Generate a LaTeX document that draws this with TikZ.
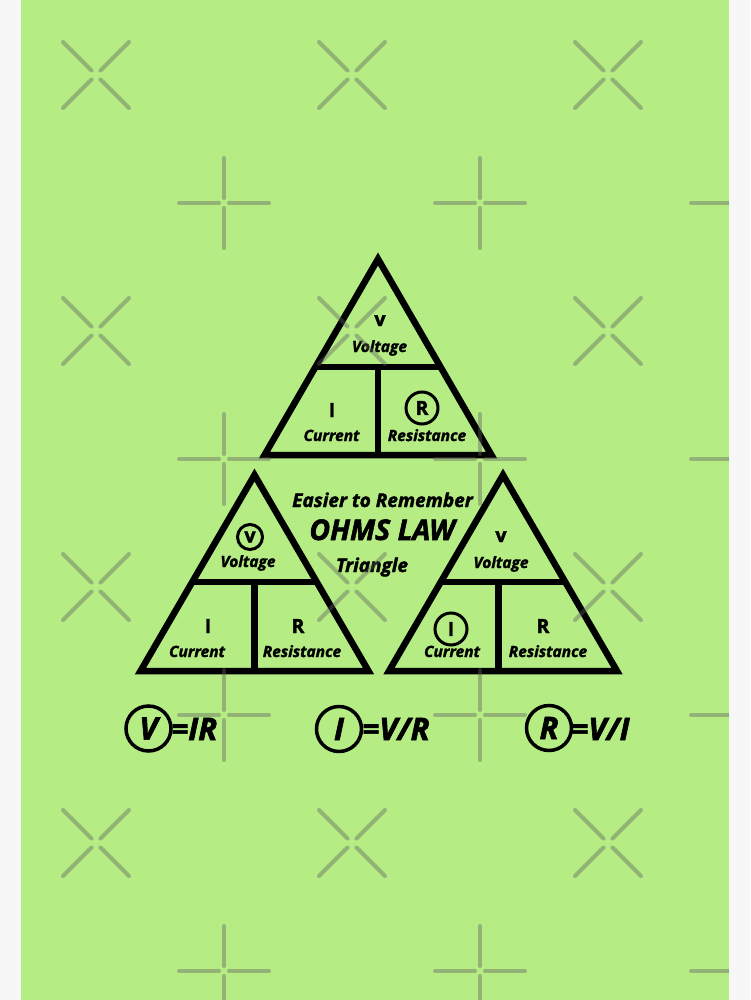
\documentclass[tikz,border=0pt]{standalone}
\usepackage{fontspec}
\setmainfont{Open Sans}[BoldFeatures={FakeBold=2}, BoldItalicFeatures={FakeBold=2}]
\usetikzlibrary{calc}
\definecolor{bggreen}{RGB}{181,236,132}
\definecolor{margincol}{RGB}{247,247,247}
\definecolor{wmcol}{RGB}{95,95,95}
\tikzset{
  tri/.style={draw=black, line width=6.5pt, line join=miter},
  divline/.style={draw=black, line width=6.5pt},
  lab/.style={font=\fontsize{15.5}{16}\selectfont\bfseries\itshape, inner sep=0pt, anchor=base},
  sym/.style={font=\fontsize{19.5}{20}\selectfont\bfseries, inner sep=0pt, anchor=base},
  csym/.style={font=\fontsize{19.5}{20}\selectfont\bfseries, inner sep=0pt, draw=black, circle, line width=3pt, minimum size=32pt},
  csmall/.style={csym, minimum size=25pt},
  ttl/.style={font=\fontsize{19}{20}\selectfont\bfseries\itshape, inner sep=0pt, anchor=base},
  big/.style={font=\fontsize{28.5}{29}\selectfont\bfseries\itshape, inner sep=0pt, anchor=base},
  fcirc/.style={font=\fontsize{31}{32}\selectfont\bfseries\itshape, inner sep=0pt, draw=black, circle, line width=3.5pt, minimum size=45pt},
  ftxt/.style={font=\fontsize{31}{32}\selectfont\bfseries\itshape, inner sep=0pt, anchor=base west},
  wmark/.style={draw=wmcol, opacity=0.4, line width=4pt, line cap=round},
}
\begin{document}
\begin{tikzpicture}[x=1pt,y=-1pt]
\useasboundingbox (0,0) rectangle (750,1000);
\fill[margincol] (0,0) rectangle (750,1000);
\fill[bggreen] (21,0) rectangle (729,1000);

% ---- top triangle
\coordinate (tA) at (378,259);
\coordinate (tL) at (264.5,455);
\coordinate (tR) at (491.5,455);
\draw[tri] (tA) -- (tL) -- (tR) -- cycle;
\coordinate (tdl) at ($(tA)!0.551!(tL)$);
\coordinate (tdr) at ($(tA)!0.551!(tR)$);
\draw[divline] (tdl) -- (tdr);
\coordinate (tvt) at (378,367);
\coordinate (tvb) at (378,455);
\draw[divline] (tvt) -- (tvb);
\node[sym] (tv) at (380,326) {v};
\node[lab] (tvolt) at (379.5,352) {Voltage};
\node[sym] (ti) at (332,417) {I};
\node[lab] (tcur) at (331.5,441) {Current};
\node[csym] (tr) at (422,408) {R};
\node[lab] (tres) at (427,441) {Resistance};

% ---- bottom-left triangle
\coordinate (lA) at (254.5,475);
\coordinate (lL) at (140.5,671);
\coordinate (lR) at (368.5,671);
\draw[tri] (lA) -- (lL) -- (lR) -- cycle;
\coordinate (ldl) at ($(lA)!0.546!(lL)$);
\coordinate (ldr) at ($(lA)!0.546!(lR)$);
\draw[divline] (ldl) -- (ldr);
\coordinate (lvt) at (254.5,582);
\coordinate (lvb) at (254.5,671);
\draw[divline] (lvt) -- (lvb);
\node[csmall] (lv) at (250,537) {v};
\node[lab] (lvolt) at (248,567) {Voltage};
\node[sym] (li) at (208,633) {I};
\node[lab] (lcur) at (197,657) {Current};
\node[sym] (lr) at (298,633) {R};
\node[lab] (lres) at (302,657) {Resistance};

% ---- bottom-right triangle
\coordinate (rA) at (503,475);
\coordinate (rL) at (389,671);
\coordinate (rR) at (617,671);
\draw[tri] (rA) -- (rL) -- (rR) -- cycle;
\coordinate (rdl) at ($(rA)!0.546!(rL)$);
\coordinate (rdr) at ($(rA)!0.546!(rR)$);
\draw[divline] (rdl) -- (rdr);
\coordinate (rvt) at (498.5,582);
\coordinate (rvb) at (498.5,671);
\draw[divline] (rvt) -- (rvb);
\node[sym] (rv) at (501,542) {v};
\node[lab] (rvolt) at (501,568) {Voltage};
\node[csym] (ri) at (451,629) {I};
\node[lab] (rcur) at (452,657) {Current};
\node[sym] (rr) at (543,633) {R};
\node[lab] (rres) at (548,657) {Resistance};

% ---- title
\node[ttl] (t1) at (382.5,507) {Easier to Remember};
\node[big] (t2) at (382,540) {OHMS LAW};
\node[ttl] (t3) at (372,572) {Triangle};

% ---- formulas
\node[fcirc] (fv) at (148.5,728.5) {V};
\node[ftxt] (fvt) at (171,740) {=IR};
\node[fcirc] (fi) at (339,729) {I};
\node[ftxt] (fit) at (362,740) {=V/R};
\node[fcirc] (fr) at (549,728) {R};
\node[ftxt] (frt) at (571,740) {=V/I};

% ---- watermark
\begin{scope}
\clip (21,0) rectangle (729,1000);
\foreach \yy in {75,331,587,843} {
  \foreach \xx in {96,352,608,864} {
    \draw[wmark] ({\xx-4.5},{\yy-4.5}) -- ({\xx-33},{\yy-33});
    \draw[wmark] ({\xx+4.5},{\yy-4.5}) -- ({\xx+33},{\yy-33});
    \draw[wmark] ({\xx-4.5},{\yy+4.5}) -- ({\xx-33},{\yy+33});
    \draw[wmark] ({\xx+4.5},{\yy+4.5}) -- ({\xx+33},{\yy+33});
  }
}
\foreach \yy in {203,459,715,971} {
  \foreach \xx in {224,480,736} {
    \draw[wmark] (\xx,{\yy-5}) -- (\xx,{\yy-45});
    \draw[wmark] (\xx,{\yy+5}) -- (\xx,{\yy+45});
    \draw[wmark] ({\xx-5},\yy) -- ({\xx-45},\yy);
    \draw[wmark] ({\xx+5},\yy) -- ({\xx+45},\yy);
  }
}
\end{scope}
\end{tikzpicture}
\end{document}
